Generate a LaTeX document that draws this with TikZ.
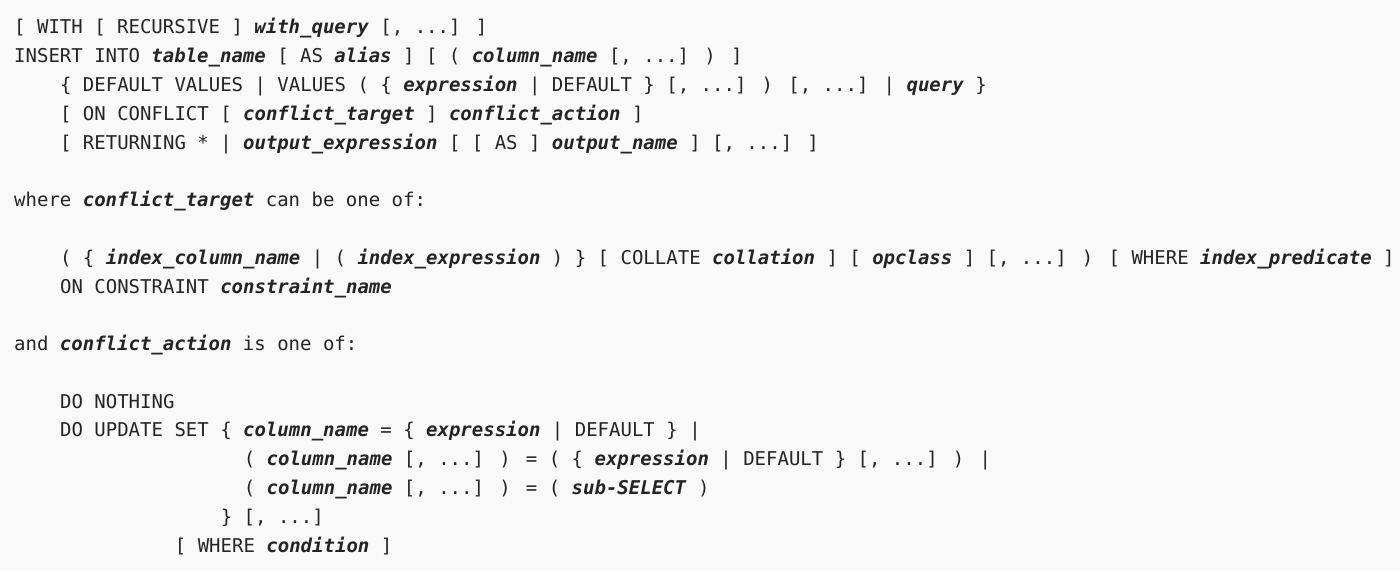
\documentclass[tikz,border=0pt]{standalone}
\usepackage{fontspec}
\setmainfont{DejaVu Sans Mono}
\newcommand\bi[1]{\textbf{\textit{#1}}}
\definecolor{bg}{HTML}{F9F9F9}
\definecolor{tx}{HTML}{242424}
\begin{document}
\begin{tikzpicture}[x=1pt,y=1pt,
  ln/.style={anchor=base west,inner sep=0pt,text=tx,font=\fontsize{19}{19}\selectfont}]
\fill[bg] (0,0) rectangle (1400,571);
\useasboundingbox (0,0) rectangle (1400,571);
\def\cw{11.48}
\def\lh{28.78}
\newcommand\ltx[3]{\node[ln] (#1) at ({14+#2*\cw},{571-34-(#1-1)*\lh}) {#3};}
\ltx{1}{0}{[ WITH [ RECURSIVE ] \bi{with\_query} [, ...] ]}
\ltx{2}{0}{INSERT INTO \bi{table\_name} [ AS \bi{alias} ] [ ( \bi{column\_name} [, ...] ) ]}
\ltx{3}{4}{\{ DEFAULT VALUES | VALUES ( \{ \bi{expression} | DEFAULT \} [, ...] ) [, ...] | \bi{query} \}}
\ltx{4}{4}{[ ON CONFLICT [ \bi{conflict\_target} ] \bi{conflict\_action} ]}
\ltx{5}{4}{[ RETURNING * | \bi{output\_expression} [ [ AS ] \bi{output\_name} ] [, ...] ]}
\ltx{7}{0}{where \bi{conflict\_target} can be one of:}
\ltx{9}{4}{( \{ \bi{index\_column\_name} | ( \bi{index\_expression} ) \} [ COLLATE \bi{collation} ] [ \bi{opclass} ] [, ...] ) [ WHERE \bi{index\_predicate} ]}
\ltx{10}{4}{ON CONSTRAINT \bi{constraint\_name}}
\ltx{12}{0}{and \bi{conflict\_action} is one of:}
\ltx{14}{4}{DO NOTHING}
\ltx{15}{4}{DO UPDATE SET \{ \bi{column\_name} = \{ \bi{expression} | DEFAULT \} |}
\ltx{16}{20}{( \bi{column\_name} [, ...] ) = ( \{ \bi{expression} | DEFAULT \} [, ...] ) |}
\ltx{17}{20}{( \bi{column\_name} [, ...] ) = ( \bi{sub-SELECT} )}
\ltx{18}{18}{\} [, ...]}
\ltx{19}{14}{[ WHERE \bi{condition} ]}
\end{tikzpicture}
\end{document}
